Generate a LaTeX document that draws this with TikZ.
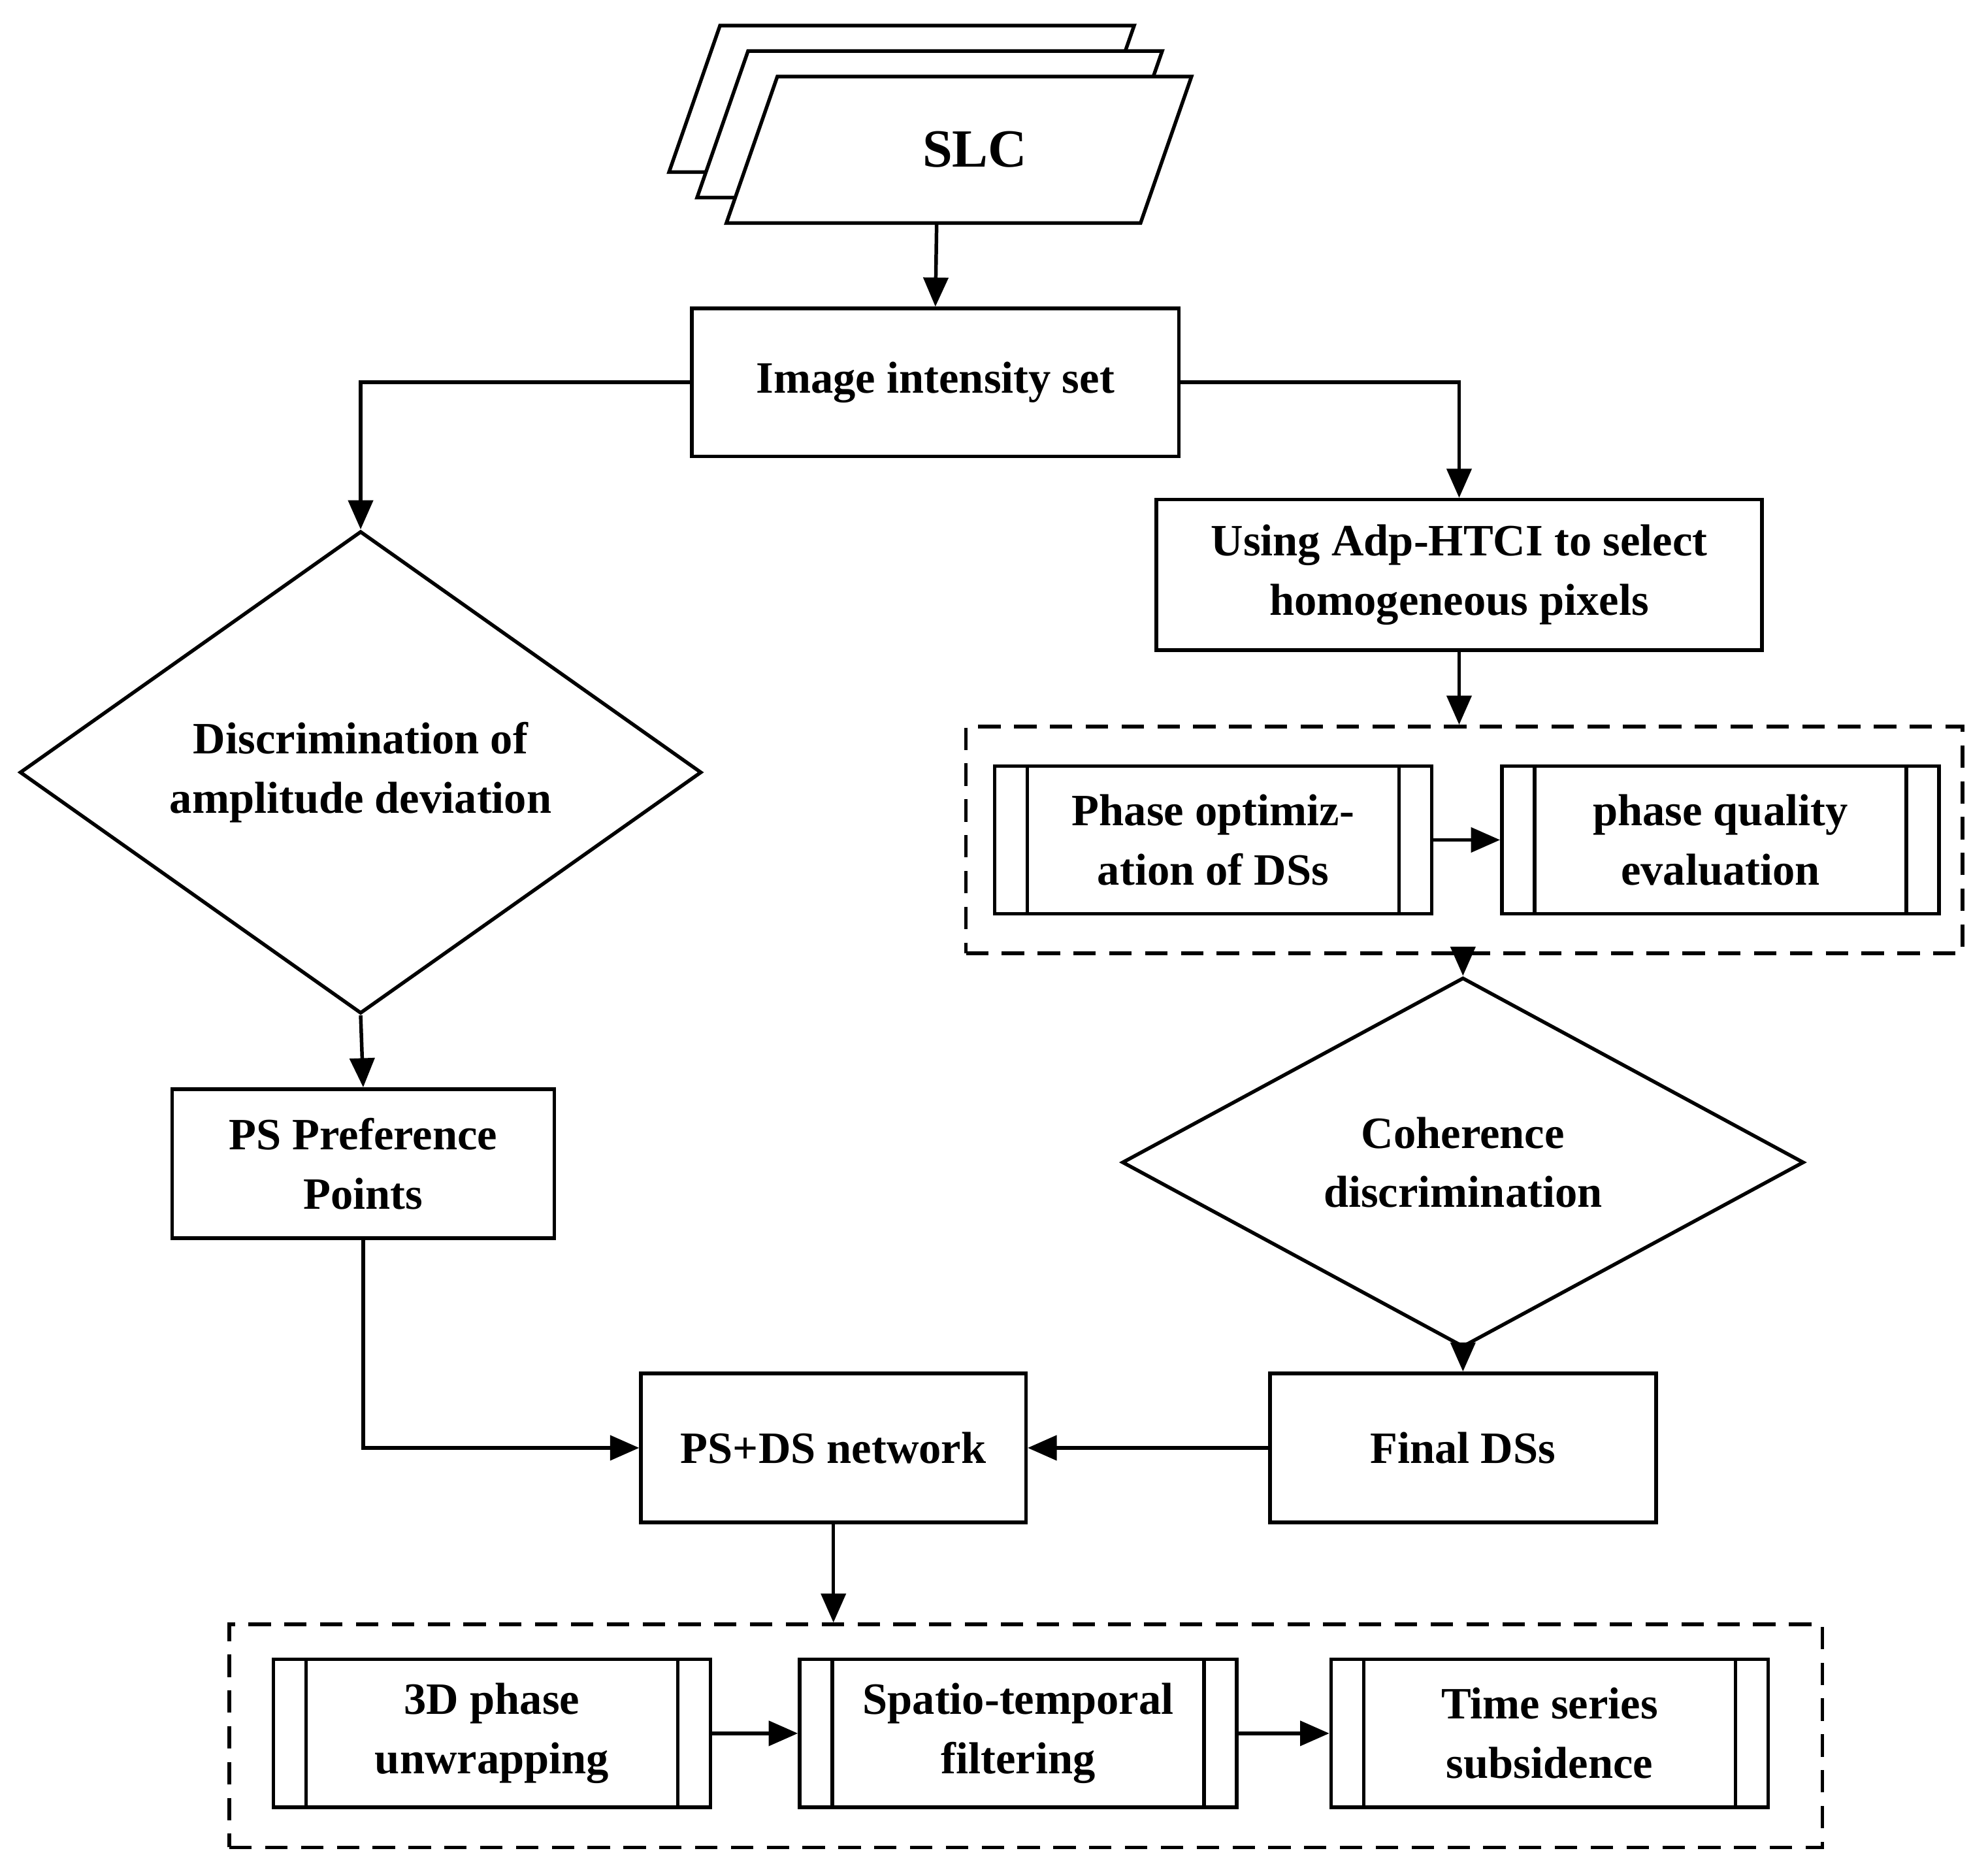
\documentclass[tikz,border=0pt]{standalone}
\usepackage{fontspec}
\setmainfont{Liberation Serif}
\usetikzlibrary{shapes.geometric,arrows.meta}
\begin{document}
\begin{tikzpicture}[x=0.02cm,y=-0.02cm,
  every node/.style={font=\fontsize{20}{26.5}\selectfont\bfseries, align=center},
  ln/.style={line width=1.6pt},
  arr/.style={ln,-{Triangle[length=13pt,width=11pt]}},
  box/.style={draw,ln,rectangle,inner sep=0pt},
  proc/.style={box,minimum width=343*0.02cm,minimum height=116*0.02cm},
  dia/.style={draw,ln,diamond,inner sep=0pt},
  dbox/.style={draw,ln,dash pattern=on 10pt off 6pt}]
\useasboundingbox (0,0) rectangle (1560,1467);
% SLC stack
\foreach \dx/\dy in {0/0,22/20,45/40}{
  \filldraw[ln,fill=white] (565+\dx,20+\dy) -- (890+\dx,20+\dy) -- (850+\dx,135+\dy) -- (525+\dx,135+\dy) -- cycle;}
\node (slc) at (765,117) {\fontsize{24}{28}\selectfont SLC};
\coordinate (slcb) at (735,175);
% nodes
\node[box,minimum width=382*0.02cm,minimum height=116*0.02cm] (img) at (734,300) {Image intensity set};
\node[box,minimum width=475*0.02cm,minimum height=118*0.02cm] (adp) at (1145,451) {Using Adp-HTCI to select\\homogeneous pixels};
\node[dbox,minimum width=782*0.02cm,minimum height=178*0.02cm] (d1) at (1149,659) {};
\node[proc] (pa) at (952,659) {Phase optimiz-\\ation of DSs};
\node[proc] (pb) at (1350,659) {phase quality\\evaluation};
\node[dia,minimum width=535*0.02cm,minimum height=219*0.02cm] (coh) at (1148,912) {Coherence\\discrimination};
\node[box,minimum width=303*0.02cm,minimum height=117*0.02cm] (fin) at (1148,1136) {Final DSs};
\node[box,minimum width=302*0.02cm,minimum height=117*0.02cm] (net) at (654,1136) {PS+DS network};
\node[dia,minimum width=535*0.02cm,minimum height=219*0.02cm] (amp) at (283,606) {Discrimination of\\amplitude deviation};
\node[box,minimum width=300*0.02cm,minimum height=117*0.02cm] (ps) at (285,913) {PS Preference\\Points};
\node[dbox,minimum width=1250*0.02cm,minimum height=175*0.02cm] (d2) at (805,1362) {};
\node[proc] (p1) at (386,1360) {3D phase\\unwrapping};
\node[proc] (p2) at (799,1360) {Spatio-temporal\\filtering};
\node[proc] (p3) at (1216,1360) {Time series\\subsidence};
\foreach \n in {pa,pb,p1,p2,p3}{
  \draw[ln] ([xshift=27*0.02cm]\n.north west) -- ([xshift=27*0.02cm]\n.south west);
  \draw[ln] ([xshift=-27*0.02cm]\n.north east) -- ([xshift=-27*0.02cm]\n.south east);}
% connectors
\draw[arr] (slcb) -- (img.north);
\draw[arr] (img.west) -| (amp.north);
\draw[arr] (img.east) -| (adp.north);
\draw[arr] (adp.south) -- (adp.south |- d1.north);
\draw[arr] (pa) -- (pb);
\draw[arr] (coh.north |- d1.south) -- (coh.north);
\draw[arr] (coh.south) -- (fin.north);
\draw[arr] (fin) -- (net);
\draw[arr] (amp.south) -- (ps.north);
\draw[arr] (ps.south) |- (net.west);
\draw[arr] (net.south) -- (net.south |- d2.north);
\draw[arr] (p1) -- (p2);
\draw[arr] (p2) -- (p3);
\end{tikzpicture}
\end{document}
